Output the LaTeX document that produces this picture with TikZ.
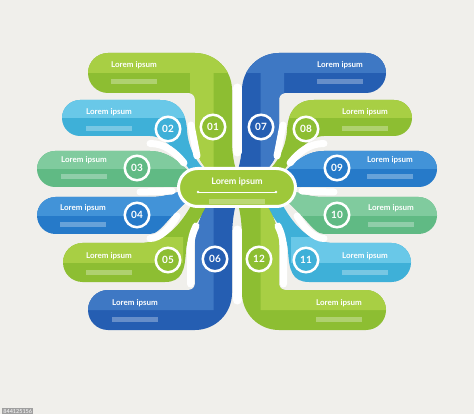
\documentclass[tikz,border=0pt]{standalone}
\usepackage{fontspec}
\setsansfont{Lato}
\usetikzlibrary{positioning,shadows}
\tikzset{>=stealth}

\definecolor{paper}{RGB}{240,239,235}
\definecolor{leaf}{RGB}{141,190,50}
\definecolor{leafLt}{RGB}{168,207,68}
\definecolor{aqua}{RGB}{62,176,216}
\definecolor{aquaLt}{RGB}{105,200,232}
\definecolor{mint}{RGB}{96,186,132}
\definecolor{mintLt}{RGB}{128,203,158}
\definecolor{ocean}{RGB}{38,122,201}
\definecolor{oceanLt}{RGB}{66,147,216}
\definecolor{deep}{RGB}{37,94,178}
\definecolor{deepLt}{RGB}{62,120,196}
\definecolor{hubleaf}{RGB}{158,200,58}

\tikzset{
  % left half of the flower, in pixel coordinates (y down)
  band01/.style={insert path={(108,53) -- (195,53) arc[start angle=-90,end angle=0,radius=37] -- (232,140) .. controls (232,160) and (236,168) .. (237,175) -- (214.5,176.6) .. controls (205,168) and (195,158) .. (195,140) -- (195,99) arc[start angle=0,end angle=-90,radius=6] -- (108,93) arc[start angle=90,end angle=270,radius=20] -- cycle}},
  band02/.style={insert path={(80,100) -- (160,100) .. controls (178,100) and (186,112) .. (187,130) .. controls (188,150) and (200,170) .. (214.5,176.6) -- (198,181) .. controls (185,165) and (170,136) .. (150,136) -- (80,136) arc[start angle=90,end angle=270,radius=18] -- cycle}},
  band03/.style={insert path={(55,151) -- (150,151) .. controls (172,151) and (185,168) .. (198,181) -- (192,187) -- (55,187) arc[start angle=90,end angle=270,radius=18] -- cycle}},
  band04/.style={insert path={(55.5,197) -- (150,197) .. controls (170,197) and (182,190) .. (192,187) -- (198,193) .. controls (170,212) and (162,234) .. (150,234) -- (55.5,234) arc[start angle=90,end angle=270,radius=18.5] -- cycle}},
  band05/.style={insert path={(82.5,243) -- (140,243) .. controls (170,243) and (185,218) .. (198,193) -- (214.5,197.4) .. controls (203,215) and (188,230) .. (186,250) .. controls (185,270) and (182,282) .. (165,282) -- (82.5,282) arc[start angle=90,end angle=270,radius=19.5] -- cycle}},
  band06/.style={insert path={(108,290) -- (189,290) arc[start angle=90,end angle=0,radius=6] -- (195,245) .. controls (195,225) and (205,205) .. (214.5,197.4) -- (237,199) .. controls (236,205) and (232,215) .. (232,240) -- (232,293) arc[start angle=0,end angle=90,radius=37] -- (108,330) arc[start angle=90,end angle=270,radius=20] -- cycle}},
  finger/.style={white, line width=7pt, line cap=round},
  numdot/.style={circle, draw=white, line width=2.5pt, minimum size=24.5pt, inner sep=0pt,
    text=white, font=\sffamily\bfseries\fontsize{10}{10}\selectfont,
    drop shadow={opacity=0.25, shadow xshift=0.8pt, shadow yshift=-0.8pt}},
  bandlabel/.style={text=white, inner sep=1pt, text height=6pt, text depth=1.5pt,
    font=\sffamily\bfseries\fontsize{8}{9}\selectfont},
  fillerbar/.style={fill=white, opacity=0.3, minimum width=46pt, minimum height=5pt, inner sep=0pt},
  hub/.style={rectangle, rounded corners=19pt, minimum width=117pt, minimum height=38pt,
    fill=hubleaf, draw=white, line width=3pt,
    drop shadow={opacity=0.2, shadow xshift=1pt, shadow yshift=-1pt}}
}

\begin{document}
\begin{tikzpicture}[x=1pt,y=-1pt]
\useasboundingbox (0,0) rectangle (474,414);
\fill[paper] (0,0) rectangle (474,414);

% six bands on the left, the same six mirrored on the right
\foreach \s/\ca/\cb/\cc/\cd/\ce/\cf in {1/leaf/aqua/mint/ocean/leaf/deep,-1/deep/leaf/ocean/mint/aqua/leaf}{
\begin{scope}[shift={(237,0)},xscale=\s,shift={(-237,0)}]
\fill[fill=\ca, band01];
\begin{scope}\clip (80,45) rectangle (240,73) (190,73) rectangle (213.5,178); \fill[fill=\ca Lt, band01]; \end{scope}
\fill[fill=\cb, band02];
\begin{scope}\clip (50,95) rectangle (200,118); \fill[fill=\cb Lt, band02]; \end{scope}
\fill[fill=\cc, band03];
\begin{scope}\clip (30,145) rectangle (200,169); \fill[fill=\cc Lt, band03]; \end{scope}
\fill[fill=\cd, band04];
\begin{scope}\clip (30,190) rectangle (200,215.5); \fill[fill=\cd Lt, band04]; \end{scope}
\fill[fill=\ce, band05];
\begin{scope}\clip (60,238) rectangle (183,262.5); \fill[fill=\ce Lt, band05]; \end{scope}
\fill[fill=\cf, band06];
\begin{scope}\clip (80,285) rectangle (195,310) (190,196) rectangle (213.5,310); \fill[fill=\cf Lt, band06]; \end{scope}
% white gaps between the bands
\draw[finger] (191,125) -- (197,156);
\draw[finger] (150,143.5) .. controls (165,143.5) and (175,152) .. (184,163);
\draw[finger] (140,192) -- (172,191);
\draw[finger] (150,238.5) .. controls (160,238.5) and (170,228) .. (177,216);
\draw[finger] (190.5,284) -- (190.5,250) .. controls (190.5,240) and (193,232) .. (196,226);
\end{scope}
}
\draw[finger, line width=9pt] (237,88) -- (237,152);
\draw[finger, line width=9pt] (237,300) -- (237,230);

% centre
\node[hub] (hub) at (237,187.5) {};
\node[bandlabel, font=\sffamily\bfseries\fontsize{9}{10}\selectfont] (hubtitle) at (237,182.5) {Lorem ipsum};
\coordinate (hl) at (198,192);
\coordinate (hr) at (276,192);
\draw[white, line width=0.6pt] (hl) -- (hr);
\fill[white] (hl) circle (1.3) (hr) circle (1.3);
\node[fillerbar, minimum width=56pt] (hubbar) at (237,201.5) {};

% numbered dots
\foreach \n/\x/\y/\c in {01/213/127/leaf, 02/168/129/aqua, 03/137/168/mint, 04/137/215/ocean,
  05/168/260/leaf, 06/215/259/deep, 07/261/127/deep, 08/306/129/leaf,
  09/337/168/ocean, 10/337/215/mint, 11/306/260/aqua, 12/259/259/leaf}
  \node[numdot, fill=\c] (c\n) at (\x,\y) {\n};

% labels
\foreach \n/\x/\y in {01/134/65, 02/109/112, 03/84/160, 04/83/208, 05/109/256, 06/135/303,
  07/340/65, 08/365/112, 09/390/160, 10/391/208, 11/365/256, 12/339/303}{
  \node[bandlabel] (t\n) at (\x,\y) {Lorem ipsum};
  \node[fillerbar, below=9pt of t\n] (f\n) {};
}

\node[fill=gray!75, text=white, inner sep=1.2pt, anchor=south west,
  font=\sffamily\fontsize{5.5}{6}\selectfont] (imgid) at (2,415) {844125156};
\end{tikzpicture}
\end{document}
